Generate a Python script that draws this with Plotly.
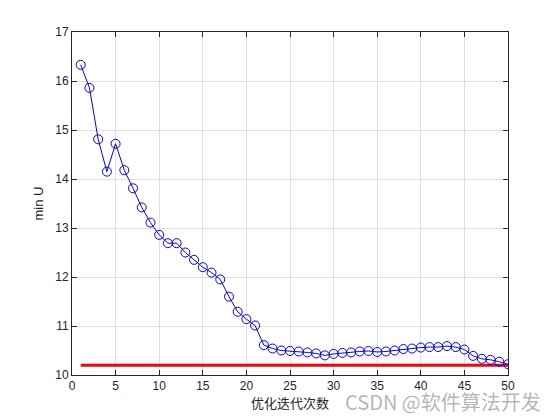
import plotly.graph_objects as go

iterations = list(range(1, 51))
min_u = [16.33, 15.86, 14.81, 14.15, 14.72, 14.18, 13.81, 13.42, 13.11, 12.86,
         12.69, 12.69, 12.50, 12.35, 12.20, 12.09, 11.95, 11.60, 11.29, 11.14,
         11.01, 10.61, 10.54, 10.50, 10.49, 10.48, 10.46, 10.44, 10.40, 10.43,
         10.45, 10.46, 10.48, 10.49, 10.47, 10.48, 10.50, 10.53, 10.54, 10.56,
         10.57, 10.57, 10.59, 10.57, 10.52, 10.39, 10.33, 10.31, 10.27, 10.22]
ref_x = [1, 50]
ref_y = [10.2, 10.2]

fig = go.Figure()
fig.add_trace(go.Scatter(x=ref_x, y=ref_y, mode="lines",
                         line=dict(color="#ff0000", width=3), showlegend=False))
fig.add_trace(go.Scatter(x=iterations, y=min_u, mode="lines+markers",
                         line=dict(color="#0000ff", width=1),
                         marker=dict(symbol="circle-open", size=9, color="#0000ff",
                                     line=dict(width=1, color="#0000ff")),
                         showlegend=False))

axis_common = dict(showline=True, linecolor="#262626", linewidth=1, mirror="allticks",
                   ticks="inside", ticklen=5, tickcolor="#262626",
                   showgrid=True, gridcolor="#dfdfdf", gridwidth=1, zeroline=False,
                   tickfont=dict(family="Liberation Sans, Arial", size=12, color="#262626"))
fig.update_xaxes(range=[0, 50], dtick=5, title=dict(text="优化迭代次数", standoff=4,
                 font=dict(family="Noto Sans CJK SC", size=13, color="#262626")), **axis_common)
fig.update_yaxes(range=[10, 17], dtick=1, title=dict(text="min U", standoff=8,
                 font=dict(family="Liberation Sans, Arial", size=13, color="#262626")), **axis_common)

fig.add_annotation(text="CSDN @软件算法开发", xref="paper", yref="paper", x=1.08, y=-0.076,
                   xanchor="right", yanchor="middle", showarrow=False,
                   font=dict(family="Noto Sans CJK SC", size=20, color="rgba(150,150,150,0.7)"))

fig.update_layout(width=560, height=420, margin=dict(l=64, r=60, t=24, b=53),
                  paper_bgcolor="white", plot_bgcolor="white")
fig.write_html("out.html")
